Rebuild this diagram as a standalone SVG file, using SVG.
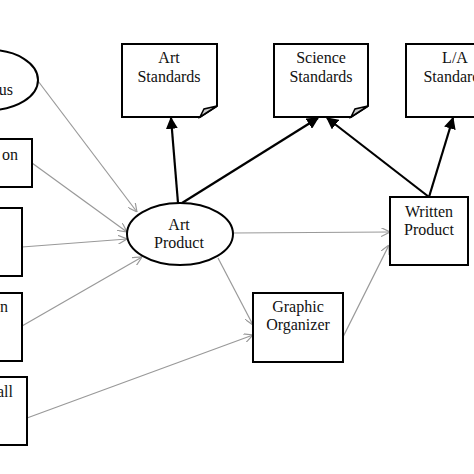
<svg xmlns="http://www.w3.org/2000/svg" width="474" height="474" viewBox="0 0 474 474">
<defs>
<style>
.n{fill:#fff;stroke:#000;stroke-width:2}
.t{font-family:"Liberation Serif",serif;font-size:16px;fill:#111;text-anchor:middle}
.tl{font-family:"Liberation Serif",serif;font-size:16px;fill:#111;text-anchor:end}
.g{stroke:#999;stroke-width:1.2;fill:none;marker-end:url(#ga)}
.b{stroke:#000;stroke-width:2.2;fill:none;marker-end:url(#ba)}
.fold{fill:#ccc;stroke:#000;stroke-width:1.5}
</style>
<marker id="ga" viewBox="0 0 10 10" refX="10" refY="5" markerWidth="9" markerHeight="9" markerUnits="userSpaceOnUse" orient="auto">
<path d="M0,0 L10,5 L0,10" fill="none" stroke="#999" stroke-width="1.3"/>
</marker>
<marker id="ba" viewBox="0 0 10 10" refX="9" refY="5" markerWidth="12" markerHeight="12" markerUnits="userSpaceOnUse" orient="auto">
<path d="M0,0 L10,5 L0,10 Z" fill="#000"/>
</marker>
</defs>
<g id="connectors">
<line class="g" x1="38" y1="81" x2="137" y2="212"/>
<line class="g" x1="32" y1="163" x2="127" y2="232"/>
<line class="g" x1="22" y1="247" x2="127" y2="239"/>
<line class="g" x1="22" y1="326" x2="142" y2="257"/>
<line class="g" x1="27" y1="418" x2="253" y2="335"/>
<line class="g" x1="233" y1="233" x2="390" y2="232"/>
<line class="g" x1="218" y1="258" x2="253" y2="325"/>
<line class="g" x1="343" y1="337" x2="389" y2="245"/>
<line class="b" x1="178" y1="203" x2="171" y2="118"/>
<line class="b" x1="182" y1="203" x2="318" y2="118"/>
<line class="b" x1="429" y1="197" x2="327" y2="118"/>
<line class="b" x1="429" y1="197" x2="453" y2="118"/>
</g>
<g id="node-us">
<ellipse class="n" cx="-10" cy="80" rx="48" ry="30"/>
<text class="tl" x="13" y="95">us</text>
</g>
<g id="node-on">
<rect class="n" x="-10" y="139" width="42" height="48"/>
<text class="tl" x="18" y="160">on</text>
</g>
<g id="node-blank">
<rect class="n" x="-10" y="208" width="32" height="68"/>
</g>
<g id="node-n">
<rect class="n" x="-10" y="293" width="32" height="68"/>
<text class="tl" x="8" y="312">n</text>
</g>
<g id="node-all">
<rect class="n" x="-10" y="377" width="37" height="68"/>
<text class="tl" x="13" y="397">all</text>
</g>
<g id="node-art-standards">
<path class="n" d="M122,44 H217 V106 L200,117 H122 Z"/>
<path class="fold" d="M200,117 L217,106 L204,109 Z"/>
<text class="t" x="169" y="63">Art</text>
<text class="t" x="169" y="82">Standards</text>
</g>
<g id="node-science-standards">
<path class="n" d="M274,44 H368 V106 L351,117 H274 Z"/>
<path class="fold" d="M351,117 L368,106 L355,109 Z"/>
<text class="t" x="321" y="63">Science</text>
<text class="t" x="321" y="82">Standards</text>
</g>
<g id="node-la-standards">
<rect class="n" x="406" y="44" width="94" height="73"/>
<text class="t" x="455" y="63">L/A</text>
<text class="t" x="455" y="82">Standards</text>
</g>
<g id="node-art-product">
<ellipse class="n" cx="180" cy="234" rx="53" ry="31"/>
<text class="t" x="179" y="230">Art</text>
<text class="t" x="179" y="248">Product</text>
</g>
<g id="node-written-product">
<rect class="n" x="390" y="197" width="78" height="68"/>
<text class="t" x="429" y="217">Written</text>
<text class="t" x="429" y="235">Product</text>
</g>
<g id="node-graphic-organizer">
<rect class="n" x="253" y="293" width="90" height="69"/>
<text class="t" x="298" y="312">Graphic</text>
<text class="t" x="298" y="330">Organizer</text>
</g>
</svg>
